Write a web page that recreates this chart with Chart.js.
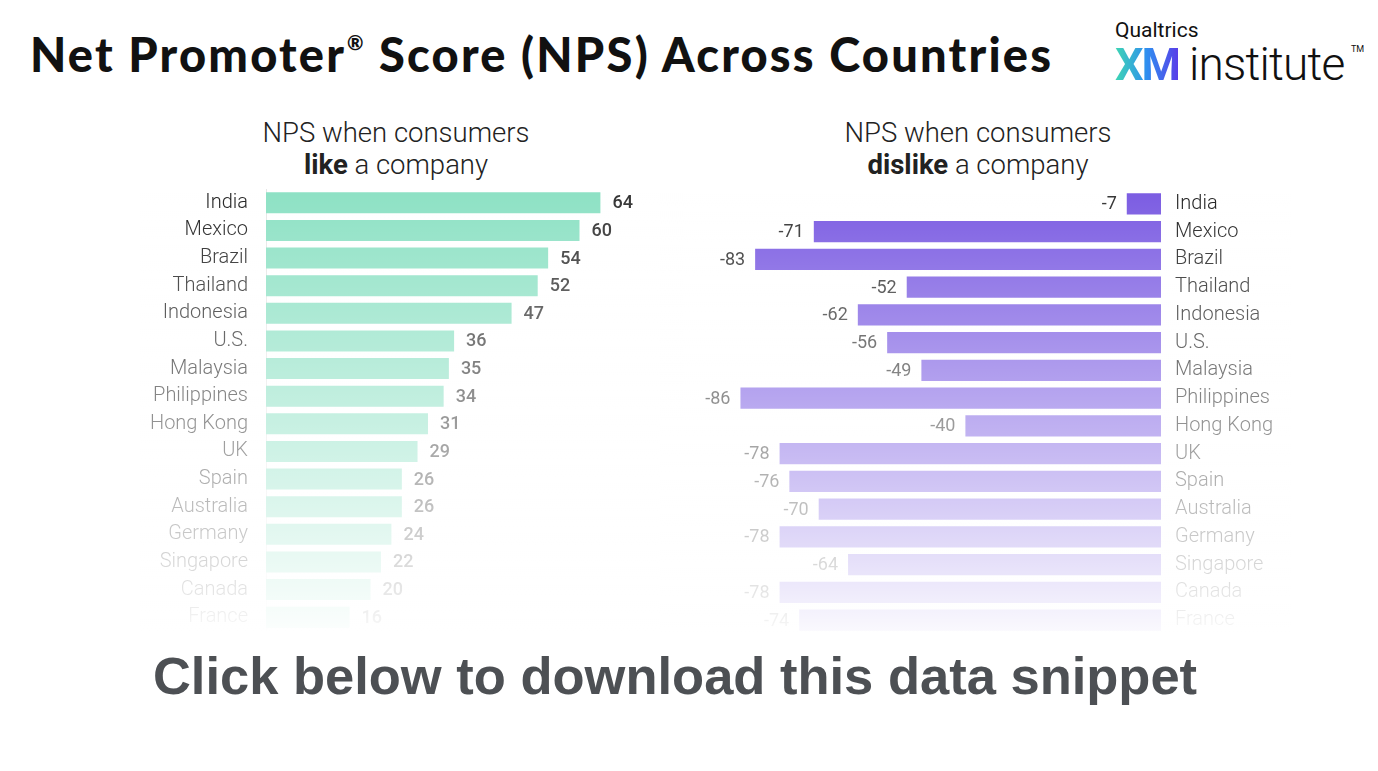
<!DOCTYPE html>
<html>
<head>
<meta charset="utf-8">
<script src="https://cdn.jsdelivr.net/npm/chart.js@4.4.1/dist/chart.umd.min.js"></script>
<style>
  html, body { margin: 0; padding: 0; background: #fff; }
  body { width: 1378px; height: 771px; position: relative; overflow: hidden; font-family: Roboto, "Noto Sans", sans-serif; }
  .title { position: absolute; left: 30px; top: 26px; font: 900 47px Lato, "Noto Sans", sans-serif; color: #111; white-space: nowrap; letter-spacing: 2.2px; }
  .title sup { font-size: 20px; vertical-align: 22px; margin-left: 1px; }
  .logo { position: absolute; left: 1115px; top: 18px; }
  .logo .q { font: 400 21px Roboto, sans-serif; color: #111; }
  .logo .xm { position: absolute; left: 0; top: 20px; font: 700 45px Roboto, sans-serif; letter-spacing: -2px;
    background: linear-gradient(90deg, #3ed6b3, #2f8ef0 50%, #5a3ce8); -webkit-background-clip: text; background-clip: text; color: transparent; }
  .logo .inst { position: absolute; left: 74px; top: 19px; font: 300 46px Roboto, sans-serif; color: #111; letter-spacing: -0.8px; }
  .logo .tm { position: absolute; left: 236px; top: 26px; font: 400 9px Roboto, sans-serif; color: #111; }
  .sub { position: absolute; top: 117px; width: 420px; text-align: center; font: 300 27.5px Roboto, sans-serif; color: #222; line-height: 32px; }
  .sub b { font-weight: 700; }
  .cta { position: absolute; left: 0; width: 1350px; top: 645px; text-align: center; font: 700 52.5px "Liberation Sans", Arial, sans-serif; color: #4d5054; }
  .chart { position: absolute; }
</style>
</head>
<body>
<div class="title">Net Promoter<sup>®</sup> Score (NPS) Across Countries</div>
<div class="logo"><div class="q">Qualtrics</div><div class="xm">XM</div><div class="inst">institute</div><div class="tm">TM</div></div>
<div class="sub" style="left:186px">NPS when consumers<br><b>like</b> a company</div>
<div class="sub" style="left:768px">NPS when consumers<br><b>dislike</b> a company</div>
<div class="cta">Click below to download this data snippet</div>

<canvas id="likeChart" class="chart" width="544" height="442" style="left:140px;top:189px"></canvas>
<canvas id="dislikeChart" class="chart" width="631" height="444" style="left:660px;top:190px"></canvas>

<script>
const countries = ['India', 'Mexico', 'Brazil', 'Thailand', 'Indonesia', 'U.S.', 'Malaysia', 'Philippines',
  'Hong Kong', 'UK', 'Spain', 'Australia', 'Germany', 'Singapore', 'Canada', 'France'];
const npsLike = [64, 60, 54, 52, 47, 36, 35, 34, 31, 29, 26, 26, 24, 22, 20, 16];
const npsDislike = [-7, -71, -83, -52, -62, -56, -49, -86, -40, -78, -76, -70, -78, -64, -78, -74];

// value labels next to bar ends
const valueLabels = {
  id: 'valueLabels',
  afterDatasetsDraw(chart, args, opts) {
    const ctx = chart.ctx;
    const meta = chart.getDatasetMeta(0);
    ctx.save();
    ctx.font = opts.font;
    ctx.fillStyle = '#333';
    ctx.textBaseline = 'middle';
    meta.data.forEach((bar, i) => {
      const v = chart.data.datasets[0].data[i];
      if (v >= 0) { ctx.textAlign = 'left'; ctx.fillText(v, bar.x + 12, bar.y + 1); }
      else { ctx.textAlign = 'right'; ctx.fillText(v, bar.x - 10, bar.y + 1); }
    });
    ctx.restore();
  }
};

// white fade toward the bottom
const fadeOut = {
  id: 'fadeOut',
  afterDraw(chart) {
    const { ctx, width, height } = chart;
    const g = ctx.createLinearGradient(0, 0, 0, height);
    g.addColorStop(0, 'rgba(255,255,255,0)');
    g.addColorStop(1, 'rgba(255,255,255,0.97)');
    ctx.save();
    ctx.fillStyle = g;
    ctx.fillRect(0, 0, width, height);
    ctx.restore();
  }
};

function makeChart(id, data, color, side) {
  const left = side === 'left';
  return new Chart(document.getElementById(id), {
    type: 'bar',
    data: { labels: countries, datasets: [{ data, backgroundColor: color, barPercentage: 0.76, categoryPercentage: 1 }] },
    options: {
      indexAxis: 'y',
      responsive: false,
      animation: false,
      layout: { padding: left ? 0 : { left: 12 } },
      plugins: {
        legend: { display: false },
        tooltip: { enabled: false },
        valueLabels: { font: left ? '500 18px Roboto' : '400 18px Roboto' }
      },
      scales: {
        x: left ? { display: false, min: 0, max: 80 } : { display: false, min: -100, max: 0 },
        y: {
          position: left ? 'left' : 'right',
          // fixed label column, no extra top/bottom room for tick labels
          afterFit: s => { s.width = left ? 126 : 130; s.paddingTop = 0; s.paddingBottom = 0; },
          grid: { display: false, drawTicks: false },
          border: { display: left, color: '#e6e6e6', width: 1 },
          ticks: { color: '#222', padding: left ? 18 : 14, font: { family: 'Roboto', size: 20, weight: 300 } }
        }
      }
    },
    plugins: [valueLabels, fadeOut]
  });
}

makeChart('likeChart', npsLike, '#8de1c4', 'left');
makeChart('dislikeChart', npsDislike, '#7b5ce2', 'right');
</script>
</body>
</html>
